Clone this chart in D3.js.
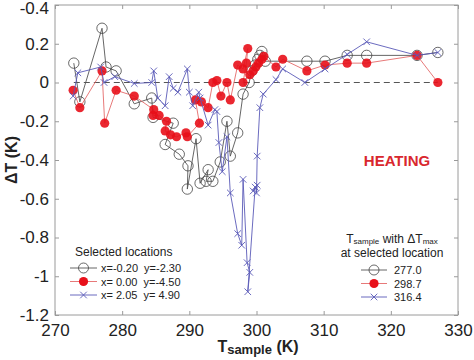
<!DOCTYPE html>
<html><head><meta charset="utf-8">
<script src="https://cdn.jsdelivr.net/npm/d3@7"></script>
<style>body{margin:0;background:#fff}svg{display:block}</style>
</head><body>
<script>
// ---- data ----
const xTicks = [270, 280, 290, 300, 310, 320, 330];
const yTicks = [-1.2, -1, -0.8, -0.6, -0.4, -0.2, 0, 0.2, 0.4];
const yTickLabels = ["-1.2", "-1", "-0.8", "-0.6", "-0.4", "-0.2", "0", "0.2", "-0.4"];
const legendLabels = ["x=-0.20  y=-2.30", "x= 0.00  y=-4.50", "x= 2.05  y= 4.90"];
const maxLabels = ["277.0", "298.7", "316.4"];

const blackT = [272.8,273.7,277.0,277.6,279.1,281.8,284.4,284.6,287.6,286.4,288.5,289.8,289.7,291.0,291.6,292.8,292.5,293.5,294.6,295.6,296.1,297.2,298.0,298.9,299.3,299.8,300.2,300.5,300.8,301.3,307.5,310.2,313.5,316.4,323.9,327.0];
const blackD = [0.10,-0.10,0.28,0.08,0.06,-0.11,-0.08,-0.18,-0.21,-0.32,-0.37,-0.43,-0.55,-0.29,-0.52,-0.45,-0.51,-0.51,-0.41,-0.20,-0.38,-0.26,-0.06,0.0,0.06,0.09,0.12,0.14,0.16,0.11,0.11,0.11,0.14,0.14,0.14,0.155];

const redT = [272.7,273.7,277.0,277.4,279.1,281.8,284.7,284.6,285.5,286.6,286.4,287.2,288.1,289.5,289.7,291.5,290.9,291.8,292.8,293.5,294.1,294.7,295.6,296.1,297.2,298.0,298.7,298.5,298.0,299.0,299.5,299.9,300.3,300.8,301.1,302.9,303.9,307.5,310.2,313.5,316.4,323.9,327.0];
const redD = [-0.04,-0.13,0.06,-0.21,-0.04,-0.07,-0.14,-0.17,-0.17,-0.20,-0.25,-0.27,-0.28,-0.26,-0.28,-0.21,-0.09,-0.10,-0.13,0.0,0.01,-0.07,0.0,-0.09,0.09,0.07,0.175,0.10,0.0,0.04,0.06,0.08,0.10,0.12,0.135,0.08,0.12,0.06,0.09,0.10,0.10,0.14,0.0];

const blueT = [272.7,273.4,276.8,277.3,278.9,281.8,284.4,284.7,285.3,286.4,287.0,287.6,288.3,289.7,290.0,290.5,291.4,291.6,292.8,293.8,294.1,294.4,294.9,295.6,296.1,297.2,297.8,298.0,298.6,299.0,298.7,299.8,299.5,300.1,300.0,300.1,300.5,301.0,302.9,303.9,307.2,310.2,313.5,316.4,323.9,327.0];
const blueD = [-0.07,0.05,0.08,0.0,0.03,-0.005,0.0,0.06,-0.08,-0.12,0.03,-0.03,-0.05,0.07,-0.05,-0.12,-0.05,-0.08,-0.22,-0.14,-0.15,-0.31,-0.46,-0.28,-0.57,-0.78,-0.84,-0.50,-0.93,-0.98,-1.08,-0.54,-0.56,-0.53,-0.57,-0.38,-0.13,-0.06,0.015,0.07,0.0,0.07,0.145,0.21,0.14,0.155];

// ---- layout ----
const W = 474, H = 360;
const L = 55, R = 458, T = 5, B = 315;
const svg = d3.select("body").append("svg").attr("width", W).attr("height", H)
  .style("font-family", "Arial, 'Liberation Sans', sans-serif");

const x = d3.scaleLinear().domain([270, 330]).range([L, R]);
const y = d3.scaleLinear().domain([-1.2, 0.4]).range([B, T]);

const frameCol = "#9a9a9a";
// axes
const ax = svg.append("g").attr("class", "axes");
ax.append("g").attr("transform", `translate(0,${B})`)
  .call(d3.axisBottom(x).tickValues(xTicks).tickFormat(d3.format("d")).tickSizeInner(-4).tickSizeOuter(0).tickPadding(9))
  .call(g => { g.select(".domain").remove(); g.selectAll("text").attr("font-size", 17).attr("fill", "#222"); g.selectAll("line").attr("stroke", frameCol); });
ax.append("g").attr("transform", `translate(0,${T})`)
  .call(d3.axisTop(x).tickValues(xTicks).tickFormat("").tickSizeInner(-4).tickSizeOuter(0))
  .call(g => { g.select(".domain").remove(); g.selectAll("line").attr("stroke", frameCol); });
ax.append("g").attr("transform", `translate(${L},0)`)
  .call(d3.axisLeft(y).tickValues(yTicks).tickFormat((d, i) => yTickLabels[i]).tickSizeInner(-4).tickSizeOuter(0).tickPadding(6))
  .call(g => {
    g.select(".domain").remove();
    g.selectAll("text").attr("font-size", 17).attr("fill", "#222");
    g.selectAll("line").attr("stroke", frameCol);
    g.selectAll(".tick").filter(d => d === 0.4).select("text").attr("y", 3);
  });
ax.append("g").attr("transform", `translate(${R},0)`)
  .call(d3.axisRight(y).tickValues(yTicks).tickFormat("").tickSizeInner(-4).tickSizeOuter(0))
  .call(g => { g.select(".domain").remove(); g.selectAll("line").attr("stroke", frameCol); });
svg.append("rect").attr("x", L).attr("y", T).attr("width", R - L).attr("height", B - T)
  .attr("fill", "none").attr("stroke", frameCol).attr("stroke-width", 1);

// zero dashed line
svg.append("line").attr("x1", x(272.8)).attr("x2", x(327)).attr("y1", y(0)).attr("y2", y(0))
  .attr("stroke", "#555").attr("stroke-width", 1).attr("stroke-dasharray", "6,4");

const line = d3.line().x(d => x(d[0])).y(d => y(d[1]));
const blackPts = blackT.map((t, i) => [t, blackD[i]]);
const redPts = redT.map((t, i) => [t, redD[i]]);
const bluePts = blueT.map((t, i) => [t, blueD[i]]);

const cBlack = "#444", cRed = "#e8101a", cRedLine = "#e46a6a", cBlue = "#5a5ab8";

// black series
svg.append("path").datum(blackPts).attr("d", line).attr("fill", "none").attr("stroke", "#555").attr("stroke-width", 0.9);
svg.append("g").selectAll("circle").data(blackPts).join("circle")
  .attr("cx", d => x(d[0])).attr("cy", d => y(d[1])).attr("r", 5.2)
  .attr("fill", "none").attr("stroke", cBlack).attr("stroke-width", 0.8);

// red series
svg.append("path").datum(redPts).attr("d", line).attr("fill", "none").attr("stroke", cRedLine).attr("stroke-width", 0.9);
svg.append("g").selectAll("circle").data(redPts).join("circle")
  .attr("cx", d => x(d[0])).attr("cy", d => y(d[1])).attr("r", 4.6)
  .attr("fill", cRed).attr("fill-opacity", 0.9);

// blue series
svg.append("path").datum(bluePts).attr("d", line).attr("fill", "none").attr("stroke", cBlue).attr("stroke-width", 0.9);
const cross = d3.symbol().type(d3.symbolX).size(30);
svg.append("g").selectAll("path").data(bluePts).join("path")
  .attr("transform", d => `translate(${x(d[0])},${y(d[1])})`).attr("d", cross)
  .attr("fill", "none").attr("stroke", cBlue).attr("stroke-width", 0.9);

// HEATING
svg.append("text").attr("x", 397).attr("y", 166).attr("text-anchor", "middle")
  .attr("font-family", "'Liberation Sans Narrow', 'Arial Narrow', sans-serif")
  .attr("font-weight", "bold").attr("font-size", 15).attr("fill", "#d9272e").text("HEATING");

// axis labels
const xl = svg.append("text").attr("x", 258).attr("y", 352).attr("text-anchor", "middle")
  .attr("font-weight", "bold").attr("font-size", 16).attr("fill", "#222");
xl.append("tspan").text("T");
xl.append("tspan").attr("font-size", 13).attr("dy", 2).text("sample");
xl.append("tspan").attr("dy", -2).text(" (K)");
svg.append("text").attr("transform", "translate(17,160) rotate(-90)").attr("text-anchor", "middle")
  .attr("font-weight", "bold").attr("font-size", 16).attr("fill", "#222").text("ΔT (K)");

// legend 1
const kinds = ["o", "f", "x"];
function marker(g, k, cx, cy) {
  if (k === "o") g.append("circle").attr("cx", cx).attr("cy", cy).attr("r", 5).attr("fill", "none").attr("stroke", cBlack).attr("stroke-width", 0.8);
  else if (k === "f") g.append("circle").attr("cx", cx).attr("cy", cy).attr("r", 4.6).attr("fill", cRed);
  else g.append("path").attr("transform", `translate(${cx},${cy})`).attr("d", cross).attr("fill", "none").attr("stroke", cBlue).attr("stroke-width", 0.9);
}
const lineCols = ["#555", cRedLine, cBlue];
const lg1 = svg.append("g");
lg1.append("text").attr("x", 75).attr("y", 256).attr("font-size", 12).attr("fill", "#222").text("Selected locations");
legendLabels.forEach((s, i) => {
  const cy = 268 + i * 13.5;
  lg1.append("line").attr("x1", 70).attr("x2", 97).attr("y1", cy).attr("y2", cy).attr("stroke", lineCols[i]).attr("stroke-width", 0.9);
  marker(lg1, kinds[i], 83.5, cy);
  lg1.append("text").attr("x", 101).attr("y", cy + 4).attr("font-size", 11).attr("fill", "#222")
    .attr("xml:space", "preserve").style("white-space", "pre").text(s);
});

// legend 2
const lg2 = svg.append("g");
const t1 = lg2.append("text").attr("x", 392).attr("y", 243).attr("text-anchor", "middle").attr("font-size", 12).attr("fill", "#222");
t1.append("tspan").text("T");
t1.append("tspan").attr("font-size", 8).attr("dy", 1).text("sample");
t1.append("tspan").attr("dy", -1).text(" with ΔT");
t1.append("tspan").attr("font-size", 8).attr("dy", 1).text("max");
lg2.append("text").attr("x", 392).attr("y", 257).attr("text-anchor", "middle").attr("font-size", 12).attr("fill", "#222").text("at selected location");
maxLabels.forEach((s, i) => {
  const cy = 270 + i * 13.5;
  lg2.append("line").attr("x1", 361).attr("x2", 387).attr("y1", cy).attr("y2", cy).attr("stroke", lineCols[i]).attr("stroke-width", 0.9);
  marker(lg2, kinds[i], 374, cy);
  lg2.append("text").attr("x", 394).attr("y", cy + 4).attr("font-size", 11).attr("fill", "#222").text(s);
});
</script>
</body></html>
